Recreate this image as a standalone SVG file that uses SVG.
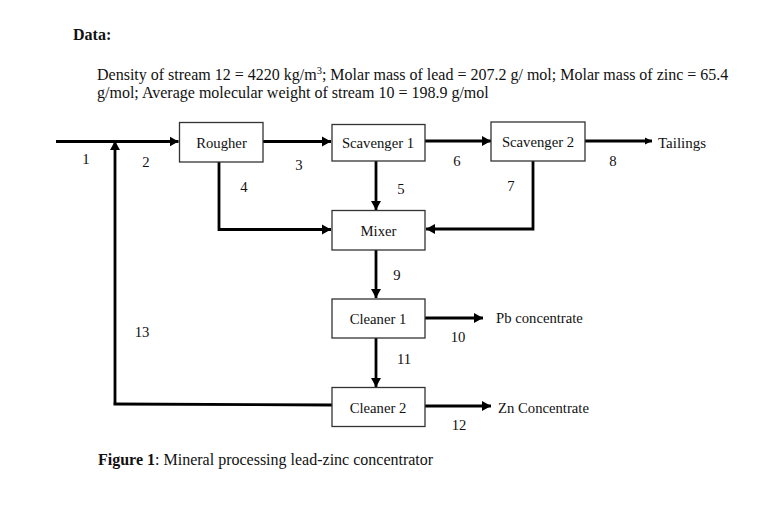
<svg xmlns="http://www.w3.org/2000/svg" width="768" height="515" viewBox="0 0 768 515">
<style>
text{font-family:"Liberation Serif","Times New Roman",serif;font-size:14.700px;fill:#111}
.p{font-size:16px}
.b{font-weight:bold}
.c{text-anchor:middle}
.box{fill:#fff;stroke:#333;stroke-width:1.3}
.l{fill:none;stroke:#000;stroke-width:2.800}
</style>
<defs>
<marker id="a" markerUnits="userSpaceOnUse" markerWidth="12" markerHeight="14" refX="9" refY="7" orient="auto"><path d="M0,2 L9,7 L0,12 Z" fill="#000"/></marker>
<marker id="s" markerUnits="userSpaceOnUse" markerWidth="8" markerHeight="10" refX="7" refY="5" orient="auto"><path d="M0,1.500 L7,5 L0,8.500 Z" fill="#000"/></marker>
</defs>
<rect width="768" height="515" fill="#fff"/>
<text class="b p" x="73" y="39.500">Data:</text>
<text class="p" x="97" y="79.500">Density of stream 12 = 4220 kg/m<tspan dy="-5.500" font-size="10.500">3</tspan><tspan dy="5.500">; Molar mass of lead = 207.2 g/ mol; Molar mass of zinc = 65.4</tspan></text>
<text class="p" x="97" y="97.500">g/mol; Average molecular weight of stream 10 = 198.9 g/mol</text>
<g id="connectors">
<path class="l" d="M56 141.500H178.500" marker-end="url(#a)"/>
<path class="l" d="M115 404.500V141" marker-end="url(#a)"/>
<path class="l" d="M263 141.500H331" marker-end="url(#a)"/>
<path class="l" d="M219 162V229.500H331" marker-end="url(#a)"/>
<path class="l" d="M376 161V210" marker-end="url(#a)"/>
<path class="l" d="M425 141H491" marker-end="url(#a)"/>
<path class="l" d="M585 141H652" marker-end="url(#s)"/>
<path class="l" d="M533 161V229H426" marker-end="url(#a)"/>
<path class="l" d="M376 250V298" marker-end="url(#a)"/>
<path class="l" d="M425 318H483" marker-end="url(#a)"/>
<path class="l" d="M376 338V387" marker-end="url(#a)"/>
<path class="l" d="M425 406H491" marker-end="url(#a)"/>
<path class="l" d="M332 405L113.600 404"/>
</g>
<g id="rougher"><rect class="box" x="179.500" y="122.500" width="83.500" height="39.500"/><text class="c" x="221.500" y="148">Rougher</text></g>
<g id="scavenger1"><rect class="box" x="332" y="124.500" width="93" height="36.500"/><text class="c" x="378" y="148">Scavenger 1</text></g>
<g id="scavenger2"><rect class="box" x="491" y="122" width="94" height="39"/><text class="c" x="538" y="147">Scavenger 2</text></g>
<g id="mixer"><rect class="box" x="332" y="210.500" width="93" height="39.500"/><text class="c" x="378.500" y="236">Mixer</text></g>
<g id="cleaner1"><rect class="box" x="332" y="299" width="93" height="39"/><text class="c" x="378" y="324">Cleaner 1</text></g>
<g id="cleaner2"><rect class="box" x="332" y="387.500" width="93" height="39"/><text class="c" x="378" y="413">Cleaner 2</text></g>
<g id="stream-labels">
<text class="c" x="86" y="164">1</text>
<text class="c" x="146" y="167">2</text>
<text class="c" x="299" y="170">3</text>
<text class="c" x="244" y="192">4</text>
<text class="c" x="401" y="194">5</text>
<text class="c" x="457" y="166">6</text>
<text class="c" x="511" y="191">7</text>
<text class="c" x="613" y="166">8</text>
<text class="c" x="397" y="280">9</text>
<text class="c" x="458" y="342">10</text>
<text class="c" x="404" y="364">11</text>
<text class="c" x="459" y="430">12</text>
<text class="c" x="142" y="337">13</text>
</g>
<text x="658" y="148" style="font-size:15px">Tailings</text>
<text x="496" y="323">Pb concentrate</text>
<text x="498" y="413">Zn Concentrate</text>
<text class="p" x="98" y="465"><tspan class="b">Figure 1</tspan>: Mineral processing lead-zinc concentrator</text>
</svg>
